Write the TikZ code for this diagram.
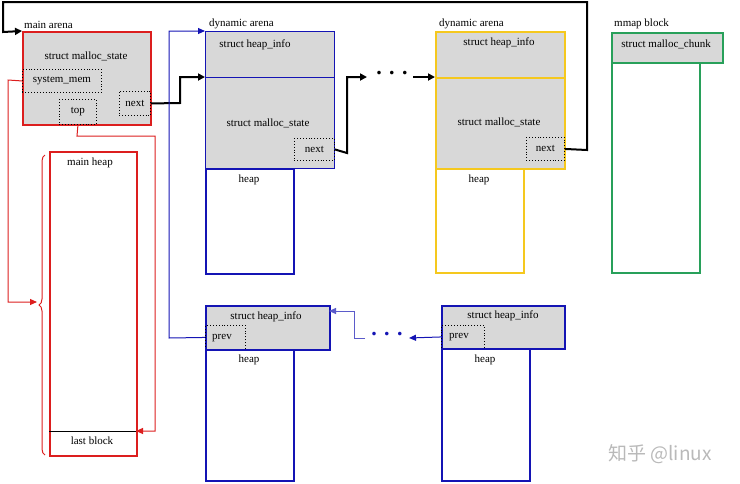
\documentclass[tikz,border=0pt]{standalone}
\usepackage{fontspec}
\setmainfont{Liberation Serif}
\newfontfamily\cjk{Noto Sans CJK SC}
\usetikzlibrary{arrows.meta,decorations.pathreplacing}
\definecolor{boxgray}{RGB}{216,216,216}
\definecolor{rd}{RGB}{220,30,30}
\definecolor{bl}{RGB}{20,20,180}
\definecolor{yl}{RGB}{245,200,30}
\definecolor{gn}{RGB}{40,160,90}
\tikzset{
 box/.style={anchor=north west,inner sep=0pt,minimum width=#1},
 sh/.style={fill=boxgray},
 dot/.style={draw,dotted,line width=0.9pt,anchor=north west,inner sep=0pt},
 lbl/.style={font=\fontsize{11}{12}\selectfont,inner sep=0pt},
 thick2/.style={line width=2pt},
 blk/.style={line width=2pt,-{Triangle[length=7pt,width=7pt]}},
 thinarr/.style={line width=1pt,-{Triangle[length=7pt,width=6pt]}},
 dots/.style={font=\fontsize{22}{22}\selectfont\bfseries},
}
\begin{document}
\begin{tikzpicture}[x=1pt,y=-1pt]
\useasboundingbox (0,0) rectangle (740,483);
% main arena
\node[box=128pt,minimum height=93pt,sh,draw=rd,thick2] (ma) at (22,31) {};
\node[lbl,anchor=south west] (mal) at (24,29) {main arena};
\node[lbl] (mas) at (86,56) {struct malloc\_state};
\node[dot,minimum width=79pt,minimum height=23pt] (sm) at (22,69) {};
\node[lbl] at (sm.center) {system\_mem};
\node[dot,minimum width=37pt,minimum height=25pt] (top) at (59,99) {};
\node[lbl] at (top.center) {top};
\node[dot,minimum width=31pt,minimum height=24pt] (mnext) at (119,91) {};
\node[lbl] at (mnext.center) {next};
% main heap
\node[box=87pt,minimum height=304pt,draw=rd,thick2] (mh) at (49,151) {};
\node[lbl] at (90,163) {main heap};
\draw[line width=1pt] (49,431) -- (136,431);
\node[lbl] (lb) at (92,441) {last block};
\draw[rd,line width=1pt,decorate,decoration={brace,amplitude=6pt}] (45,455) -- (45,155);
\coordinate (btip) at (37,302);
\draw[rd,thinarr] (sm.west) -- (8,80) -- (8,302) -- (btip);
\draw[rd,thinarr] (top.south) -- (77,136) -- (155,136) -- (155,431) -- (136,431);
% dynamic arena 1
\node[lbl,anchor=south west] at (209,29) {dynamic arena};
\node[box=129pt,minimum height=46pt,sh,draw=bl,line width=1pt] (hi1) at (205,31) {};
\node[lbl] at (255,45) {struct heap\_info};
\node[box=129pt,minimum height=91pt,sh,draw=bl,line width=1pt] (ms1) at (205,77) {};
\node[lbl] at (268,123) {struct malloc\_state};
\node[dot,minimum width=40pt,minimum height=22pt] (n1) at (294,138) {};
\node[lbl] at (n1.center) {next};
\node[box=88pt,minimum height=105pt,draw=bl,thick2] (h1) at (205,168) {};
\node[lbl] at (249,180) {heap};
\draw[blk] (mnext.east) -- (180,103) -- (180,77) -- (ms1.north west);
% chain to yellow
\draw[blk] (n1.east) -- (347,153) -- (347,77) -- (367,77);
\node[dots] (dd1) at (392,73) {.\,\,.\,\,.};
\coordinate (ya) at (435,77);
\draw[blk] (413,77) -- (ya);
% yellow arena
\node[lbl,anchor=south west] at (439,29) {dynamic arena};
\node[box=129pt,minimum height=46pt,sh,draw=yl,thick2] (hi2) at (435,31) {};
\node[lbl] at (499,43) {struct heap\_info};
\node[box=129pt,minimum height=91pt,sh,draw=yl,thick2] (ms2) at (435,77) {};
\node[lbl] at (499,122) {struct malloc\_state};
\node[dot,minimum width=38pt,minimum height=23pt] (n2) at (526,137) {};
\node[lbl] at (n2.center) {next};
\node[box=88pt,minimum height=104pt,draw=yl,thick2] (h2) at (435,168) {};
\node[lbl] at (479,180) {heap};
\draw[blk] (n2.east) -- (587,150) -- (587,2) -- (3,2) -- (3,32) -- (ma.north west);
% mmap block
\node[lbl,anchor=south west] at (614,29) {mmap block};
\node[box=111pt,minimum height=30pt,sh,draw=gn,thick2] (mc) at (611,32) {};
\node[lbl] at (666,44) {struct malloc\_chunk};
\node[box=88pt,minimum height=210pt,draw=gn,thick2] (mb) at (611,62) {};
% lower blue 1
\node[box=124pt,minimum height=44pt,sh,draw=bl,thick2] (hi3) at (205,305) {};
\node[lbl] at (266,317) {struct heap\_info};
\node[dot,minimum width=40pt,minimum height=24pt] (p3) at (205,325) {};
\node[lbl] at (222,338) {prev};
\node[box=88pt,minimum height=131pt,draw=bl,thick2] (h3) at (205,349) {};
\node[lbl] at (249,360) {heap};
\draw[bl,thinarr] (p3.west) -- (169,338) -- (169,31) -- (hi1.north west);
% lower blue 2
\node[box=123pt,minimum height=43pt,sh,draw=bl,thick2] (hi4) at (441,305) {};
\node[lbl] at (503,316) {struct heap\_info};
\node[dot,minimum width=43pt,minimum height=23pt] (p4) at (441,325) {};
\node[lbl] at (459,337) {prev};
\node[box=88pt,minimum height=132pt,draw=bl,thick2] (h4) at (441,348) {};
\node[lbl] at (485,360) {heap};
\coordinate (d2e) at (409,338);
\draw[bl,thinarr] (p4.west) -- (d2e);
\node[dots,bl] (dd2) at (387,334) {.\,\,.\,\,.};
\draw[bl!70,thinarr] (365,338) -- (354,338) -- (354,311) -- (329,311);
% watermark
\node[gray!55,font=\cjk\fontsize{19}{19}\selectfont] at (660,454) {知乎 @linux};
\end{tikzpicture}
\end{document}
